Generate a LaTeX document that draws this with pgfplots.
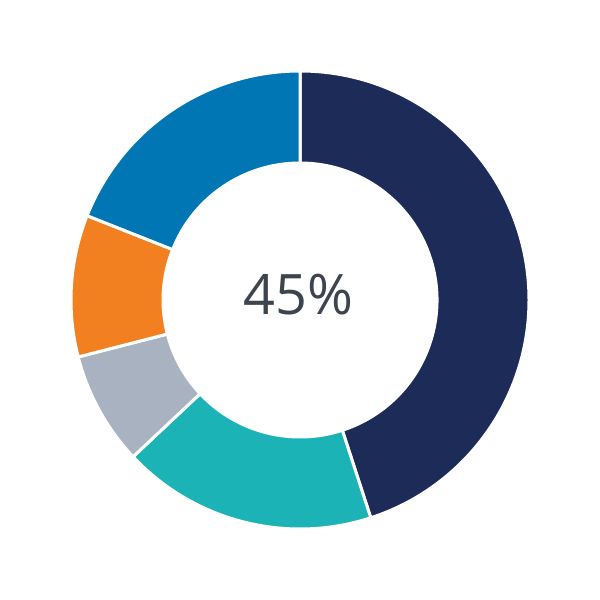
\documentclass[border=0pt]{standalone}
\usepackage{pgfplots}
\pgfplotsset{compat=1.18}
\usepackage{pgfplotstable}
\usepackage{fontspec}
\setmainfont{Open Sans}

\definecolor{cnavy}{RGB}{29,43,89}
\definecolor{cteal}{RGB}{27,179,182}
\definecolor{cgray}{RGB}{168,178,193}
\definecolor{corange}{RGB}{242,127,32}
\definecolor{cblue}{RGB}{0,118,180}
\definecolor{ctext}{RGB}{62,68,77}

% slice shares in percent, clockwise from 12 o'clock
\pgfplotstableread{
value color
45 cnavy
18 cteal
8 cgray
10 corange
19 cblue
}\slices

\begin{document}
\begin{tikzpicture}
\begin{axis}[
	width=600bp, height=600bp,
	scale only axis,
	xmin=-300, xmax=300,
	ymin=-300, ymax=300,
	hide axis,
]
	% invisible corners, keeps the page at the full square
	\addplot[draw=none, forget plot] coordinates {(-300,-300) (300,300)};
	\pgfplotstablegetrowsof{\slices}
	\pgfmathtruncatemacro\nrows{\pgfplotsretval-1}
	\def\cum{0}
	\pgfplotsforeachungrouped \i in {0,...,\nrows}{
		\pgfplotstablegetelem{\i}{value}\of\slices \let\val\pgfplotsretval
		\pgfplotstablegetelem{\i}{color}\of\slices \let\col\pgfplotsretval
		\pgfmathsetmacro\aa{90-3.6*\cum}
		\pgfmathsetmacro\cum{\cum+\val}
		\pgfmathsetmacro\ab{90-3.6*\cum}
		\edef\temp{\noexpand\fill[\col, draw=white, line width=3bp]
			(axis cs:0,0) ++(\aa:229bp)
			arc[start angle=\aa, end angle=\ab, radius=229bp]
			-- ++(\ab:-92bp)
			arc[start angle=\ab, end angle=\aa, radius=137bp]
			-- cycle;}
		\temp
	}
	\node[text=ctext, font=\fontsize{56}{60}\selectfont, inner sep=0pt]
		at (axis cs:-1.5,5) {45\%};
\end{axis}
\end{tikzpicture}
\end{document}
